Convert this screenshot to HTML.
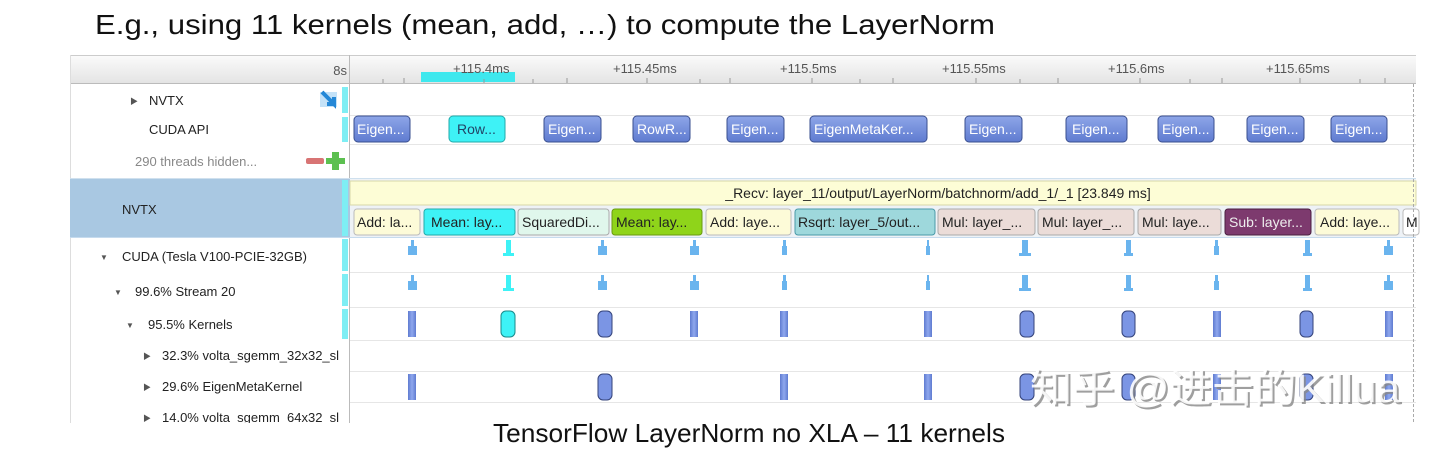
<!DOCTYPE html>
<html><head><meta charset="utf-8"><style>
html,body{margin:0;padding:0;background:#fff;width:1440px;height:449px;overflow:hidden}
svg{display:block}
text{font-family:"Liberation Sans","Noto Sans CJK SC",sans-serif}
</style></head><body>
<svg width="1440" height="449" viewBox="0 0 1440 449" xmlns="http://www.w3.org/2000/svg">
<defs>
<linearGradient id="hdr" x1="0" y1="0" x2="0" y2="1"><stop offset="0" stop-color="#fbfbfb"/><stop offset="1" stop-color="#e4e4e4"/></linearGradient>
<linearGradient id="blu" x1="0" y1="0" x2="0" y2="1"><stop offset="0" stop-color="#8ea6e8"/><stop offset="1" stop-color="#5f7bd0"/></linearGradient>
<linearGradient id="bar" x1="0" y1="0" x2="1" y2="0"><stop offset="0" stop-color="#5f7bd0"/><stop offset=".5" stop-color="#8fa8ee"/><stop offset="1" stop-color="#5f7bd0"/></linearGradient>
</defs>
<text x="95" y="34" font-size="28" fill="#111" textLength="900" lengthAdjust="spacingAndGlyphs">E.g., using 11 kernels (mean, add, …) to compute the LayerNorm</text>
<rect x="70" y="55" width="1346" height="28" fill="url(#hdr)"/>
<line x1="70" y1="55.5" x2="1416" y2="55.5" stroke="#ccc"/>
<line x1="70" y1="83.5" x2="1416" y2="83.5" stroke="#bbb"/>
<line x1="70.5" y1="55" x2="70.5" y2="423" stroke="#ddd"/>
<line x1="349.5" y1="55" x2="349.5" y2="423" stroke="#bbb"/>
<text x="347" y="75" font-size="13" fill="#555" text-anchor="end">8s</text>
<rect x="421" y="72" width="94" height="10" fill="#3ee8ee"/>
<g font-size="13" fill="#555">
<text x="453" y="73">+115.4ms</text><text x="613" y="73">+115.45ms</text><text x="780" y="73">+115.5ms</text><text x="942" y="73">+115.55ms</text><text x="1108" y="73">+115.6ms</text><text x="1266" y="73">+115.65ms</text>
</g>
<g stroke="#999">
<line x1="383" y1="79" x2="383" y2="83"/><line x1="404" y1="78" x2="404" y2="83"/><line x1="484" y1="79" x2="484" y2="83"/><line x1="533" y1="79" x2="533" y2="83"/><line x1="567" y1="78" x2="567" y2="83"/><line x1="647" y1="78" x2="647" y2="83"/><line x1="700" y1="79" x2="700" y2="83"/><line x1="730" y1="78" x2="730" y2="83"/><line x1="812" y1="78" x2="812" y2="83"/><line x1="860" y1="79" x2="860" y2="83"/><line x1="893" y1="78" x2="893" y2="83"/><line x1="976" y1="78" x2="976" y2="83"/><line x1="1020" y1="79" x2="1020" y2="83"/><line x1="1058" y1="78" x2="1058" y2="83"/><line x1="1140" y1="78" x2="1140" y2="83"/><line x1="1190" y1="79" x2="1190" y2="83"/><line x1="1222" y1="78" x2="1222" y2="83"/><line x1="1300" y1="78" x2="1300" y2="83"/><line x1="1360" y1="79" x2="1360" y2="83"/><line x1="1385" y1="78" x2="1385" y2="83"/>
</g>
<!-- row separators -->
<g stroke="#e6e6e6">
<line x1="350" y1="115.5" x2="1416" y2="115.5"/><line x1="350" y1="144.5" x2="1416" y2="144.5"/>
<line x1="350" y1="272.5" x2="1416" y2="272.5"/><line x1="350" y1="307.5" x2="1416" y2="307.5"/><line x1="350" y1="340.5" x2="1416" y2="340.5"/><line x1="350" y1="371.5" x2="1416" y2="371.5"/><line x1="350" y1="402.5" x2="1416" y2="402.5"/>
</g>
<line x1="70" y1="178.5" x2="1416" y2="178.5" stroke="#cfe0ee"/>
<!-- highlighted NVTX row -->
<rect x="70" y="179" width="280" height="58" fill="#a9c8e2"/>
<rect x="350" y="179" width="1066" height="58" fill="#eef2f6"/>
<line x1="70" y1="237.5" x2="1416" y2="237.5" stroke="#c6dbee"/>
<!-- cyan bar -->
<g fill="#7eeef4"><rect x="342" y="87" width="6" height="26"/><rect x="342" y="117" width="6" height="25"/><rect x="342" y="180" width="6" height="56"/><rect x="342" y="239" width="6" height="32"/><rect x="342" y="274" width="6" height="32"/><rect x="342" y="309" width="6" height="30"/></g>
<!-- left labels -->
<g font-size="13" fill="#222">
<text x="130" y="104" font-size="8" fill="#555">▶</text><text x="149" y="105">NVTX</text>
<text x="149" y="134">CUDA API</text>
<text x="135" y="166" fill="#888">290 threads hidden...</text>
<text x="122" y="214">NVTX</text>
<text x="100" y="260" font-size="8" fill="#555">▼</text><text x="122" y="261">CUDA (Tesla V100-PCIE-32GB)</text>
<text x="114" y="295" font-size="8" fill="#555">▼</text><text x="135" y="296">99.6% Stream 20</text>
<text x="126" y="328" font-size="8" fill="#555">▼</text><text x="148" y="329">95.5% Kernels</text>
<text x="143" y="359" font-size="8" fill="#555">▶</text><text x="162" y="360">32.3% volta_sgemm_32x32_sl</text>
<text x="143" y="390" font-size="8" fill="#555">▶</text><text x="162" y="391">29.6% EigenMetaKernel</text>
<text x="143" y="421" font-size="8" fill="#555">▶</text><text x="162" y="422">14.0% volta_sgemm_64x32_sl</text>
</g>
<path d="M322 92 L334 104 L334 97 M334 104 L327 104" stroke="#1c7fd0" stroke-width="4" fill="none"/>
<rect x="320" y="92" width="17" height="15" fill="#3d9ee8" opacity=".3"/>
<rect x="306" y="158" width="18" height="6" fill="#d87474" rx="2"/>
<rect x="326" y="158" width="19" height="6" fill="#5cc050"/><rect x="332" y="152" width="7" height="18" fill="#5cc050"/>
<!-- CUDA API boxes -->
<g stroke="#3a4f8f" stroke-width="1" font-size="14">
<rect x="354" y="116" width="56" height="26" rx="4" fill="url(#blu)"/>
<rect x="449" y="116" width="56" height="26" rx="4" fill="#3ef2f6" stroke="#2aa"/>
<rect x="544" y="116" width="57" height="26" rx="4" fill="url(#blu)"/>
<rect x="633" y="116" width="57" height="26" rx="4" fill="url(#blu)"/>
<rect x="727" y="116" width="57" height="26" rx="4" fill="url(#blu)"/>
<rect x="810" y="116" width="117" height="26" rx="4" fill="url(#blu)"/>
<rect x="965" y="116" width="57" height="26" rx="4" fill="url(#blu)"/>
<rect x="1066" y="116" width="61" height="26" rx="4" fill="url(#blu)"/>
<rect x="1158" y="116" width="56" height="26" rx="4" fill="url(#blu)"/>
<rect x="1247" y="116" width="57" height="26" rx="4" fill="url(#blu)"/>
<rect x="1331" y="116" width="56" height="26" rx="4" fill="url(#blu)"/>
</g>
<g font-size="14" fill="#fff">
<text x="357" y="134">Eigen...</text><text x="457" y="134" fill="#246">Row...</text><text x="548" y="134">Eigen...</text><text x="637" y="134">RowR...</text><text x="731" y="134">Eigen...</text><text x="814" y="134">EigenMetaKer...</text><text x="969" y="134">Eigen...</text><text x="1072" y="134">Eigen...</text><text x="1162" y="134">Eigen...</text><text x="1251" y="134">Eigen...</text><text x="1335" y="134">Eigen...</text>
</g>
<!-- NVTX ranges -->
<rect x="350" y="181" width="1066" height="24" fill="#fdfdd6" stroke="#d8d8a8"/>
<text x="938" y="198" font-size="14" fill="#222" text-anchor="middle">_Recv: layer_11/output/LayerNorm/batchnorm/add_1/_1 [23.849 ms]</text>
<g font-size="14" stroke-width="1">
<rect x="354" y="209" width="66" height="26" rx="3" fill="#fdfbd8" stroke="#bbb"/>
<rect x="424" y="209" width="91" height="26" rx="3" fill="#3ef2f6" stroke="#2aa"/>
<rect x="518" y="209" width="91" height="26" rx="3" fill="#e0f7ec" stroke="#aaa"/>
<rect x="612" y="209" width="90" height="26" rx="3" fill="#8fd41a" stroke="#6a9a10"/>
<rect x="706" y="209" width="85" height="26" rx="3" fill="#fdfbd8" stroke="#bbb"/>
<rect x="795" y="209" width="140" height="26" rx="3" fill="#9ed8dc" stroke="#4a9aa8"/>
<rect x="938" y="209" width="97" height="26" rx="3" fill="#ebdcd8" stroke="#aaa"/>
<rect x="1038" y="209" width="96" height="26" rx="3" fill="#ebdcd8" stroke="#aaa"/>
<rect x="1138" y="209" width="83" height="26" rx="3" fill="#ebdcd8" stroke="#aaa"/>
<rect x="1225" y="209" width="86" height="26" rx="3" fill="#7d3a6e" stroke="#4a2040"/>
<rect x="1315" y="209" width="84" height="26" rx="3" fill="#fdfbd8" stroke="#bbb"/>
<rect x="1403" y="209" width="16" height="26" rx="3" fill="#fff" stroke="#bbb"/>
</g>
<g font-size="14" fill="#222">
<text x="357" y="227">Add: la...</text><text x="431" y="227">Mean: lay...</text><text x="522" y="227">SquaredDi...</text><text x="616" y="227">Mean: lay...</text><text x="710" y="227">Add: laye...</text><text x="798" y="227">Rsqrt: layer_5/out...</text><text x="942" y="227">Mul: layer_...</text><text x="1042" y="227">Mul: layer_...</text><text x="1142" y="227">Mul: laye...</text><text x="1229" y="227" fill="#eee">Sub: layer...</text><text x="1320" y="227">Add: laye...</text><text x="1406" y="227">M</text>
</g>
<!-- markers -->
<g fill="#6ab4ee">
<path d="M411 240h3v6h3v9h-9v-9h3z"/><path d="M411 275h3v6h3v9h-9v-9h3z"/>
<path d="M601 240h3v6h3v9h-9v-9h3z"/><path d="M601 275h3v6h3v9h-9v-9h3z"/>
<path d="M693 240h3v6h3v9h-9v-9h3z"/><path d="M693 275h3v6h3v9h-9v-9h3z"/>
<path d="M783 240h3v6h1v9h-5v-9h1z"/><path d="M783 275h3v6h1v9h-5v-9h1z"/>
<path d="M927 240h2v6h1v9h-4v-9h1z"/><path d="M927 275h2v6h1v9h-4v-9h1z"/>
<path d="M1022 240h6v13h3v3h-12v-3h3z"/><path d="M1022 275h6v13h3v3h-12v-3h3z"/>
<path d="M1126 240h5v13h2v3h-9v-3h2z"/><path d="M1126 275h5v13h2v3h-9v-3h2z"/>
<path d="M1215 240h3v6h1v9h-5v-9h1z"/><path d="M1215 275h3v6h1v9h-5v-9h1z"/>
<path d="M1305 240h5v13h2v3h-9v-3h2z"/><path d="M1305 275h5v13h2v3h-9v-3h2z"/>
<path d="M1387 240h3v6h3v9h-9v-9h3z"/><path d="M1387 275h3v6h3v9h-9v-9h3z"/>
</g>
<g fill="#3ef2f6"><path d="M506 240h5v13h3v3h-11v-3h3z"/><path d="M506 275h5v13h3v3h-11v-3h3z"/></g>
<!-- kernels -->
<g fill="url(#bar)">
<rect x="408" y="311" width="8" height="26"/><rect x="690" y="311" width="8" height="26"/><rect x="780" y="311" width="8" height="26"/><rect x="924" y="311" width="8" height="26"/><rect x="1213" y="311" width="8" height="26"/><rect x="1385" y="311" width="8" height="26"/>
<rect x="408" y="374" width="8" height="26"/><rect x="780" y="374" width="8" height="26"/><rect x="924" y="374" width="8" height="26"/><rect x="1213" y="374" width="8" height="26"/><rect x="1385" y="374" width="8" height="26"/>
</g>
<g fill="#7b95e4" stroke="#34437a">
<rect x="598" y="311" width="14" height="26" rx="5"/><rect x="1020" y="311" width="14" height="26" rx="5"/><rect x="1122" y="311" width="13" height="26" rx="5"/><rect x="1300" y="311" width="13" height="26" rx="5"/>
<rect x="598" y="374" width="14" height="26" rx="5"/><rect x="1020" y="374" width="14" height="26" rx="5"/><rect x="1122" y="374" width="13" height="26" rx="5"/><rect x="1300" y="374" width="13" height="26" rx="5"/>
</g>
<rect x="501" y="311" width="14" height="26" rx="5" fill="#3ef2f6" stroke="#1a8a8a"/>
<line x1="1413.5" y1="84" x2="1413.5" y2="430" stroke="#aaa" stroke-dasharray="3,2"/>
<rect x="0" y="423" width="1440" height="26" fill="#fff"/>
<!-- watermark -->
<text x="1032" y="404" font-size="40" fill="#888" opacity=".8" textLength="370" lengthAdjust="spacingAndGlyphs">知乎 @进击的Killua</text>
<text x="1030" y="402" font-size="40" fill="#fff" opacity=".9" textLength="370" lengthAdjust="spacingAndGlyphs">知乎 @进击的Killua</text>
<text x="493" y="442" font-size="26" fill="#111" textLength="512" lengthAdjust="spacingAndGlyphs">TensorFlow LayerNorm no XLA – 11 kernels</text>
</svg>
</body></html>
